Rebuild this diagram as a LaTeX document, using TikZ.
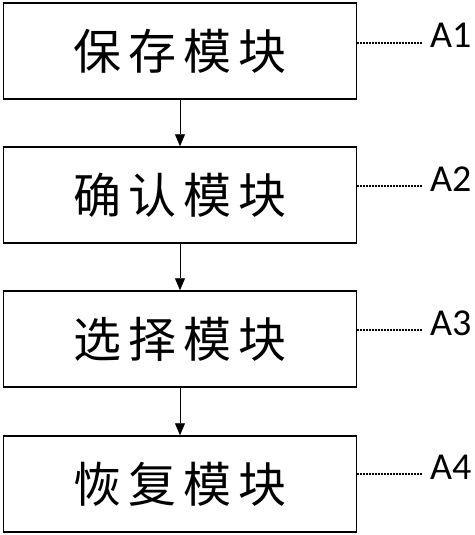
\documentclass[tikz,border=0pt]{standalone}
\usepackage{fontspec}
\setmainfont{Carlito}
\newfontfamily\cjk{Noto Sans CJK SC}
\newfontfamily\tagfont{Carlito}
\usetikzlibrary{arrows.meta}
\tikzset{
  modbox/.style={draw, line width=1.5pt, minimum width=353pt, minimum height=96pt, inner sep=0pt, font=\cjk\fontsize{48}{52}\selectfont},
  flow/.style={-{Triangle[length=12pt,width=10pt]}, line width=0.9pt},
  leader/.style={dash pattern=on 1.6pt off 1.4pt, line width=1.3pt},
  tag/.style={anchor=base west, inner sep=0pt, font=\tagfont\fontsize{38pt}{42pt}\selectfont}
}
\begin{document}
\begin{tikzpicture}[x=1pt,y=-1pt]
\useasboundingbox (0,0) rectangle (474,535);
\node[modbox] (m1) at (180,51) {保\hspace{7pt}存\hspace{7pt}模\hspace{7pt}块};
\node[modbox] (m2) at (180,195) {确\hspace{7pt}认\hspace{7pt}模\hspace{7pt}块};
\node[modbox] (m3) at (180,339) {选\hspace{7pt}择\hspace{7pt}模\hspace{7pt}块};
\node[modbox] (m4) at (180,484) {恢\hspace{7pt}复\hspace{7pt}模\hspace{7pt}块};
\draw[flow] (m1) -- (m2);
\draw[flow] (m2) -- (m3);
\draw[flow] (m3) -- (m4);
\node[tag] (a1) at (430,48) {A1};
\node[tag] (a2) at (430,191) {A2};
\node[tag] (a3) at (430,335) {A3};
\node[tag] (a4) at (430,479) {A4};
\foreach \i/\y in {1/43,2/186,3/330,4/474}{
  \coordinate (s\i) at (357,\y);
  \coordinate (e\i) at (422,\y);
  \draw[leader] (s\i) -- (e\i);
}
\end{tikzpicture}
\end{document}
